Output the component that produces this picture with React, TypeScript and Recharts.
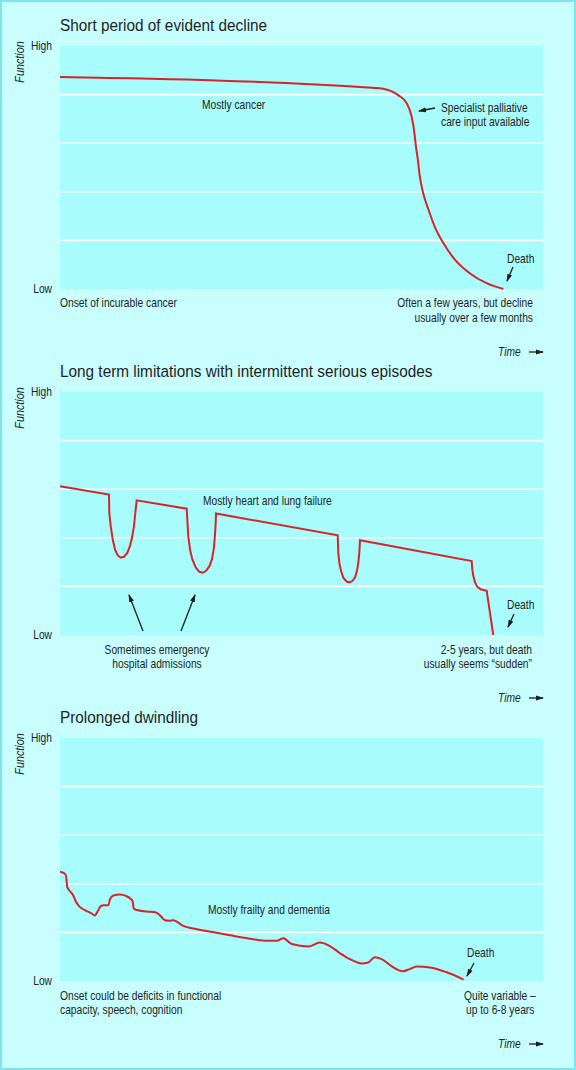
import { LineChart, Line, XAxis, YAxis, CartesianGrid } from 'recharts'

const W = 576
const PANEL_H = 346

const BG = '#c8fefe'
const PLOT_BG = '#a8fcfc'
const BORDER = '#80e4ea'
const RED = '#d5242b'
const INK = '#1e1e1e'
const SANS = "'Liberation Sans', Arial, sans-serif"
// the original set is a condensed Helvetica; squeeze the regular face to match
const BODY_SQUEEZE = 0.855
const TITLE_SQUEEZE = 0.93

// function scale: 0 = Low, 5 = High; time runs 0-100 across the plot
const levelTicks = [0, 5]
const levelLabels = ['Low', 'High']
const gridLevels = [1, 2, 3, 4]

// Short period of evident decline (cancer)
const cancerTime = [0, 64.6, 66.9, 70.0, 71.8, 72.8, 73.3, 73.7, 74.1, 74.5, 75.2, 76.3, 77.6, 79.4, 81.8, 84.9, 88.3, 91.8]
const cancerFunction = [4.36, 4.14, 4.12, 3.99, 3.82, 3.55, 3.27, 2.93, 2.65, 2.31, 1.97, 1.63, 1.28, 0.94, 0.6, 0.32, 0.12, 0]

// Long term limitations with intermittent serious episodes (organ failure)
const organTime = [
  0, 10.14, 10.21, 10.5, 10.91, 11.39, 11.95, 12.57, 13.25, 13.93, 14.49, 14.97, 15.32, 15.59, 15.88,
  26.23, 26.36, 26.56, 26.92, 27.39, 28.1, 28.84, 29.54, 30.23, 30.91, 31.47, 31.88, 32.09, 32.24, 32.3,
  57.5, 57.62, 57.83, 58.18, 58.65, 59.36, 59.9, 60.52, 61.08, 61.49, 61.76, 61.97, 62.11,
  85.24, 85.36, 85.57, 85.92, 86.4, 87.1, 88.34, 89.71,
]
const organFunction = [
  3.06, 2.89, 2.51, 2.24, 1.97, 1.76, 1.64, 1.59, 1.61, 1.69, 1.83, 2.03, 2.24, 2.51, 2.77,
  2.6, 2.38, 2.03, 1.76, 1.56, 1.39, 1.3, 1.28, 1.32, 1.41, 1.56, 1.8, 2.07, 2.31, 2.5,
  2.05, 1.69, 1.49, 1.32, 1.18, 1.1, 1.08, 1.11, 1.18, 1.32, 1.49, 1.69, 1.95,
  1.52, 1.35, 1.22, 1.08, 0.99, 0.94, 0.91, 0,
]

// Prolonged dwindling (frailty)
const frailTime = [
  0, 0.83, 1.24, 1.51, 2.22, 2.75, 3.31, 4.14, 5.18, 6.36, 7.25, 7.72, 8.43, 9.11, 10.0, 10.35,
  11.04, 12.42, 13.66, 14.64, 15.05, 15.26, 15.88, 17.95, 19.88, 20.7, 21.74, 22.63, 23.46, 24.16,
  25.4, 27.6, 30.37, 35.2, 40.0, 42.8, 45.0, 46.2, 48.0, 51.4, 53.8, 55.5, 58.0, 60.0, 62.5,
  63.8, 65.2, 66.6, 68.7, 70.95, 72.5, 73.85, 76.6, 80.06, 83.56,
]
const frailFunction = [
  2.25, 2.22, 2.17, 1.93, 1.83, 1.76, 1.63, 1.52, 1.46, 1.4, 1.35, 1.42, 1.54, 1.56, 1.56, 1.68,
  1.76, 1.78, 1.75, 1.69, 1.64, 1.49, 1.46, 1.43, 1.41, 1.35, 1.25, 1.24, 1.25, 1.22,
  1.14, 1.08, 1.03, 0.94, 0.86, 0.83, 0.83, 0.88, 0.76, 0.71, 0.79, 0.74, 0.57, 0.45, 0.36,
  0.38, 0.49, 0.45, 0.3, 0.2, 0.25, 0.3, 0.28, 0.18, 0.03,
]

type Note = { x: number; y: number; text: string; anchor?: 'start' | 'middle' | 'end' }
type Arrow = { x1: number; y1: number; x2: number; y2: number }

const PANELS: {
  title: string
  time: number[]
  level: number[]
  curve: 'monotone' | 'linear'
  notes: Note[]
  arrows: Arrow[]
}[] = [
  {
    title: 'Short period of evident decline',
    time: cancerTime,
    level: cancerFunction,
    curve: 'monotone',
    notes: [
      { x: 202, y: 109, text: 'Mostly cancer' },
      { x: 441, y: 112, text: 'Specialist palliative' },
      { x: 441, y: 126, text: 'care input available' },
      { x: 507, y: 263, text: 'Death' },
      { x: 60, y: 307, text: 'Onset of incurable cancer' },
      { x: 533, y: 307, text: 'Often a few years, but decline', anchor: 'end' },
      { x: 533, y: 322, text: 'usually over a few months', anchor: 'end' },
    ],
    arrows: [
      { x1: 435, y1: 108, x2: 419, y2: 111 },
      { x1: 513, y1: 267, x2: 507, y2: 281 },
    ],
  },
  {
    title: 'Long term limitations with intermittent serious episodes',
    time: organTime,
    level: organFunction,
    curve: 'linear',
    notes: [
      { x: 203, y: 159, text: 'Mostly heart and lung failure' },
      { x: 157, y: 308, text: 'Sometimes emergency', anchor: 'middle' },
      { x: 157, y: 322, text: 'hospital admissions', anchor: 'middle' },
      { x: 507, y: 263, text: 'Death' },
      { x: 532, y: 308, text: '2-5 years, but death', anchor: 'end' },
      { x: 532, y: 322, text: 'usually seems \u201csudden\u201d', anchor: 'end' },
    ],
    arrows: [
      { x1: 143, y1: 285, x2: 129, y2: 249 },
      { x1: 181, y1: 285, x2: 195, y2: 249 },
      { x1: 514, y1: 268, x2: 508, y2: 281 },
    ],
  },
  {
    title: 'Prolonged dwindling',
    time: frailTime,
    level: frailFunction,
    curve: 'monotone',
    notes: [
      { x: 208, y: 222, text: 'Mostly frailty and dementia' },
      { x: 467, y: 265, text: 'Death' },
      { x: 60, y: 308, text: 'Onset could be deficits in functional' },
      { x: 60, y: 322, text: 'capacity, speech, cognition' },
      { x: 464, y: 308, text: 'Quite variable \u2013' },
      { x: 466, y: 322, text: 'up to 6-8 years' },
    ],
    arrows: [{ x1: 474, y1: 271, x2: 467, y2: 284 }],
  },
]

function Squeezed({
  x,
  y,
  text,
  anchor = 'start',
  size = 12,
  squeeze = BODY_SQUEEZE,
  italic = false,
  rotate = 0,
  dy,
}: {
  x: number
  y: number
  text: string
  anchor?: 'start' | 'middle' | 'end'
  size?: number
  squeeze?: number
  italic?: boolean
  rotate?: number
  dy?: string
}) {
  return (
    <g transform={`translate(${x} ${y}) rotate(${rotate}) scale(${squeeze} 1)`}>
      <text
        x={0}
        y={0}
        dy={dy}
        textAnchor={anchor}
        fontSize={size}
        fontFamily={SANS}
        fontStyle={italic ? 'italic' : 'normal'}
        fill={INK}
      >
        {text}
      </text>
    </g>
  )
}

const LevelTick = (props: any) => {
  const { x, y, payload } = props
  const label = levelLabels[levelTicks.indexOf(payload.value)] ?? ''
  return <Squeezed x={x} y={y} text={label} anchor="end" dy="0.355em" />
}

function Panel({ index }: { index: number }) {
  const p = PANELS[index]
  const data = p.time.map((t, i) => ({ t, f: p.level[i] }))
  const markerId = `head-${index}`
  return (
    <div style={{ position: 'absolute', left: 0, top: index * PANEL_H, width: W, height: PANEL_H }}>
      <LineChart width={W} height={PANEL_H} data={data} margin={{ top: 46, right: 33, bottom: 57, left: 0 }}>
        <CartesianGrid
          vertical={false}
          horizontalValues={gridLevels}
          stroke="#ffffff"
          strokeWidth={1.6}
          strokeOpacity={1}
          fill={PLOT_BG}
          fillOpacity={1}
        />
        <XAxis type="number" dataKey="t" domain={[0, 100]} hide />
        <YAxis
          type="number"
          domain={[0, 5]}
          ticks={levelTicks}
          width={60}
          axisLine={false}
          tickLine={false}
          tick={LevelTick}
        />
        <Line type={p.curve} dataKey="f" stroke={RED} strokeWidth={2} dot={false} isAnimationActive={false} />
      </LineChart>

      {/* titles, notes and arrows */}
      <svg
        width={W}
        height={370}
        style={{ position: 'absolute', left: 0, top: 0, overflow: 'visible', pointerEvents: 'none' }}
      >
        <defs>
          <marker id={markerId} markerWidth={8} markerHeight={6} refX={7} refY={3} orient="auto" markerUnits="userSpaceOnUse">
            <path d="M0,0.5 L8,3 L0,5.5 z" fill={INK} />
          </marker>
        </defs>
        <Squeezed x={60} y={31} text={p.title} size={16.5} squeeze={TITLE_SQUEEZE} />
        <Squeezed x={24} y={62} text="Function" anchor="middle" italic rotate={-90} squeeze={0.9} />
        {p.notes.map((n, i) => (
          <Squeezed key={i} x={n.x} y={n.y} text={n.text} anchor={n.anchor} />
        ))}
        {p.arrows.map((a, i) => (
          <line key={i} x1={a.x1} y1={a.y1} x2={a.x2} y2={a.y2} stroke={INK} strokeWidth={1.3} markerEnd={`url(#${markerId})`} />
        ))}
        <Squeezed x={498} y={356} text="Time" italic />
        <line x1={529} y1={352} x2={543} y2={352} stroke={INK} strokeWidth={1.3} markerEnd={`url(#${markerId})`} />
      </svg>
    </div>
  )
}

export default function App() {
  return (
    <div
      style={{
        position: 'absolute',
        left: 0,
        top: 0,
        width: W,
        height: 1070,
        background: BG,
        boxShadow: `inset 0 0 0 2px ${BORDER}`,
        overflow: 'hidden',
      }}
    >
      {PANELS.map((_, i) => (
        <Panel key={i} index={i} />
      ))}
    </div>
  )
}
